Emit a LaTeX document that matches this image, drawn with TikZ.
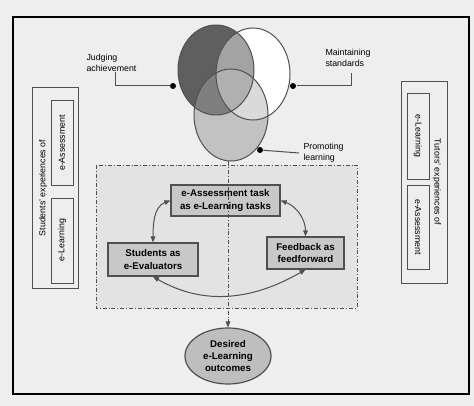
\documentclass[tikz,border=0pt]{standalone}
\usepackage{fontspec}
\setmainfont{Liberation Sans}
\usetikzlibrary{arrows.meta,shapes.geometric}

\definecolor{bgGray}{RGB}{238,238,238}
\definecolor{zoneGray}{RGB}{227,227,227}
\definecolor{boxGray}{RGB}{200,200,200}
\definecolor{lineGray}{RGB}{80,80,80}

\newcommand{\ellJudge}{(216,70) ellipse [x radius=38, y radius=45]}
\newcommand{\ellMaint}{(253,74) ellipse [x radius=37, y radius=46]}
\newcommand{\ellPromo}{(231,115) ellipse [x radius=37, y radius=46]}

\tikzset{every picture/.style={line width=0.75pt}}
\tikzset{
	smalltext/.style={font=\fontsize{6.6}{8.2}\selectfont, align=left, inner sep=0pt},
	sidetext/.style={font=\fontsize{6.6}{8}\selectfont, inner sep=0pt},
	taskbox/.style={draw=lineGray, fill=boxGray, line width=0.9pt, align=center,
		font=\bfseries\fontsize{7.3}{9.2}\selectfont, inner sep=0pt},
	pin dot/.style={circle, fill=black, inner sep=0pt, minimum size=4.5pt},
	dashdot/.style={dash pattern=on 3pt off 1.5pt on 0.6pt off 1.5pt, line width=0.6pt},
	tip/.style={-{Triangle[length=4.5pt,width=3.5pt]}},
	twotip/.style={{Triangle[length=4.5pt,width=3.5pt]}-{Triangle[length=4.5pt,width=3.5pt]}}
}

\begin{document}
\begin{tikzpicture}[x=0.75pt,y=0.75pt,yscale=-1,xscale=1]
	\useasboundingbox (0,0) rectangle (474,406);
	\fill[bgGray] (0,0) rectangle (474,406);

	%Outer frame
	\draw[line width=1.8pt, black] (13,17) rectangle (469,394);

	%Dash-dot zone
	\fill[zoneGray] (96,165) rectangle (357,308);
	\draw[dashdot, lineGray] (96,165) rectangle (357,308);

	%Three overlapping circles
	\fill[fill={rgb,255:red,95;green,95;blue,95}] \ellJudge;
	\fill[white] \ellMaint;
	\fill[fill={rgb,255:red,194;green,194;blue,194}] \ellPromo;
	\begin{scope}
		\clip \ellJudge;
		\fill[fill={rgb,255:red,163;green,163;blue,163}] \ellMaint;
		\fill[fill={rgb,255:red,127;green,127;blue,127}] \ellPromo;
	\end{scope}
	\begin{scope}
		\clip \ellMaint;
		\fill[fill={rgb,255:red,218;green,218;blue,218}] \ellPromo;
	\end{scope}
	\begin{scope}
		\clip \ellJudge;
		\clip \ellMaint;
		\fill[fill={rgb,255:red,176;green,176;blue,176}] \ellPromo;
	\end{scope}
	\draw[lineGray] \ellJudge;
	\draw[lineGray] \ellMaint;
	\draw[lineGray] \ellPromo;

	%Circle labels and pins
	\node[smalltext, anchor=west] (lblJudge) at (86,62.5) {Judging\\achievement};
	\node[smalltext, anchor=west] (lblMaint) at (325,57.5) {Maintaining\\standards};
	\node[smalltext, anchor=west] (lblPromo) at (303,153) {Promoting\\learning};
	\node[pin dot] (dotJudge) at (173,86) {};
	\node[pin dot] (dotMaint) at (293,86) {};
	\node[pin dot] (dotPromo) at (260,150) {};
	\coordinate (kneeJudge) at (115,72);
	\coordinate (kneeMaint) at (351,73);
	\coordinate (endPromo) at (299,153);
	\draw[lineGray] (dotJudge) -| (kneeJudge);
	\draw[lineGray] (dotMaint) -| (kneeMaint);
	\draw[lineGray] (dotPromo) -- (endPromo);

	%Students' side
	\draw[lineGray] (32,88) rectangle (78,288);
	\draw[lineGray] (51,101) rectangle (73,185);
	\draw[lineGray] (51,198) rectangle (73,283);
	\node[sidetext, rotate=90] (stuExp) at (43,188) {Students' experiences of};
	\node[sidetext, rotate=90] (stuAss) at (62,143) {e-Assessment};
	\node[sidetext, rotate=90] (stuLrn) at (62,240) {e-Learning};

	%Tutors' side
	\draw[lineGray] (401,82) rectangle (447,283);
	\draw[lineGray] (407,94) rectangle (429,179);
	\draw[lineGray] (407,185) rectangle (429,269);
	\node[sidetext, rotate=-90] (tutExp) at (437,182) {Tutors' experiences of};
	\node[sidetext, rotate=-90] (tutLrn) at (418,136) {e-Learning};
	\node[sidetext, rotate=-90] (tutAss) at (418,227) {e-Assessment};

	%Central boxes
	\node[taskbox, minimum width=81.75pt, minimum height=23.25pt] (task) at (225.5,200.5) {e-Assessment task\\as e-Learning tasks};
	\node[taskbox, minimum width=67.5pt, minimum height=24.75pt] (stud) at (153,259.5) {Students as\\e-Evaluators};
	\node[taskbox, minimum width=57.75pt, minimum height=24pt] (feed) at (305.5,253) {Feedback as\\feedforward};
	\node[taskbox, ellipse, fill={rgb,255:red,190;green,190;blue,190}, minimum width=64.5pt, minimum height=42pt] (goal) at (228,356) {Desired\\e-Learning\\outcomes};

	%Connectors
	\coordinate (promoBot) at (228,161);
	\draw[dashdot, lineGray, tip] (promoBot) -- (goal.north);
	\draw[twotip, lineGray] (task.west) to[out=160, in=-90] (stud.north);
	\draw[twotip, lineGray] (task.east) to[out=20, in=-90] (feed.north);
	\draw[twotip, lineGray] (stud.south) to[out=30, in=150] (feed.south);

\end{tikzpicture}
\end{document}
